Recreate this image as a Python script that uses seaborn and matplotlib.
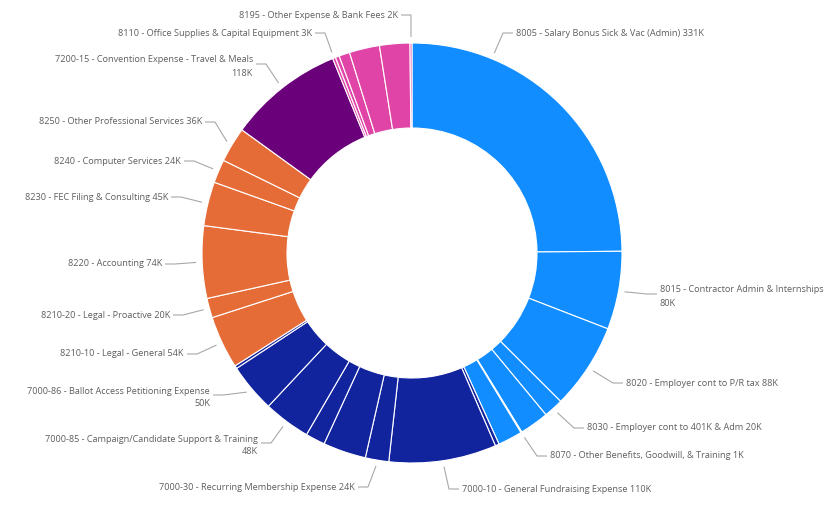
import numpy as np
import matplotlib
matplotlib.use("Agg")
import matplotlib.pyplot as plt
import seaborn as sns

# ---------------- data ----------------
names = [
    "8005 - Salary Bonus Sick & Vac (Admin)", "8015 - Contractor Admin & Internships",
    "8020 - Employer cont to P/R tax", "8030 - Employer cont to 401K & Adm",
    "", "8070 - Other Benefits, Goodwill, & Training", "",
    "", "7000-10 - General Fundraising Expense", "7000-30 - Recurring Membership Expense",
    "", "", "7000-85 - Campaign/Candidate Support & Training",
    "7000-86 - Ballot Access Petitioning Expense", "",
    "8210-10 - Legal - General", "8210-20 - Legal - Proactive", "8220 - Accounting",
    "8230 - FEC Filing & Consulting", "8240 - Computer Services",
    "8250 - Other Professional Services",
    "7200-15 - Convention Expense - Travel & Meals",
    "8110 - Office Supplies & Capital Equipment", "", "", "", "",
    "8195 - Other Expense & Bank Fees",
]
values_k = [331, 80, 88, 20, 30, 1, 25,
            4, 110, 24, 44, 20, 48, 50, 3,
            54, 20, 74, 45, 24, 36,
            118,
            3, 4, 11, 31, 31, 2]
groups = (["Admin"] * 7 + ["Fundraising"] * 8 + ["Professional"] * 6
          + ["Convention"] + ["Office"] * 6)
group_order = ["Admin", "Fundraising", "Professional", "Convention", "Office"]
group_colors = ["#118DFF", "#12239E", "#E66C37", "#6B007B", "#E044A7"]

# ---------------- layout (image px coords, y down) ----------------
W, H = 839, 520
CX, CY, R_OUT, R_IN = 412, 253, 210, 125
# label layout: index -> (text edge x, first line y, side, wrapped, anchor fraction)
label_layout = {
    0: (516, 33, "R", False, 0.25),
    1: (660, 290, "R", True, 0.5),
    2: (626, 383, "R", False, 0.5),
    3: (587, 428, "R", False, 0.5),
    5: (550, 456, "R", False, 0.5),
    8: (462, 489, "R", False, 0.5),
    9: (355, 487, "L", False, 0.5),
    12: (258, 439, "L", True, 0.5),
    13: (210, 391, "L", True, 0.5),
    15: (184, 354, "L", False, 0.5),
    16: (170, 315, "L", False, 0.5),
    17: (162, 264, "L", False, 0.5),
    18: (168, 197, "L", False, 0.5),
    19: (181, 161, "L", False, 0.5),
    20: (202, 122, "L", False, 0.5),
    21: (253, 60, "L", True, 0.5),
    22: (312, 33, "L", False, 0.5),
    27: (398, 15, "L", False, 0.5),
}

sns.set_style("white")
plt.rcParams["font.family"] = ["Open Sans", "DejaVu Sans"]

palette = dict(zip(group_order, sns.color_palette(group_colors)))
colors = [palette[g] for g in groups]

fig = plt.figure(figsize=(W / 100, H / 100), dpi=100)
ax = fig.add_axes([0, 0, 1, 1])
ax.set_xlim(0, W)
ax.set_ylim(0, H)
ax.axis("off")

ax.pie(values_k, colors=colors, startangle=90, counterclock=False,
       center=(CX, H - CY), radius=R_OUT, frame=True,
       wedgeprops=dict(width=R_OUT - R_IN, edgecolor="white", linewidth=0.8))
ax.set_xlim(0, W)
ax.set_ylim(0, H)
ax.set_aspect("equal")
ax.axis("off")

total = float(sum(values_k))
cum = np.concatenate([[0], np.cumsum(values_k)]) / total * 360.0

txt_color = "#605E5C"
line_color = "#A8A8A8"
fs = 6.6
R_ANCH = 216

for i, (tx, ty, side, wrapped, frac) in label_layout.items():
    ang = np.deg2rad(cum[i] + frac * (cum[i + 1] - cum[i]))
    ax_x = CX + R_ANCH * np.sin(ang)
    ax_y = CY - R_ANCH * np.cos(ang)
    val = f"{values_k[i]}K"
    lines = [names[i], val] if wrapped else [f"{names[i]} {val}"]
    ha = "left" if side == "R" else "right"
    for k, ln in enumerate(lines):
        ax.text(tx, H - (ty + 13 * k), ln, ha=ha, va="center",
                fontsize=fs, color=txt_color)
    ly = ty + (4 if wrapped else 0)
    if side == "R":
        x_end, x_elb = tx - 3, tx - 13
    else:
        x_end, x_elb = tx + 3, tx + 13
    ax.plot([ax_x, x_elb, x_end], [H - ax_y, H - ly, H - ly],
            color=line_color, lw=0.8, solid_capstyle="butt")

fig.savefig("out.png", dpi=100)
